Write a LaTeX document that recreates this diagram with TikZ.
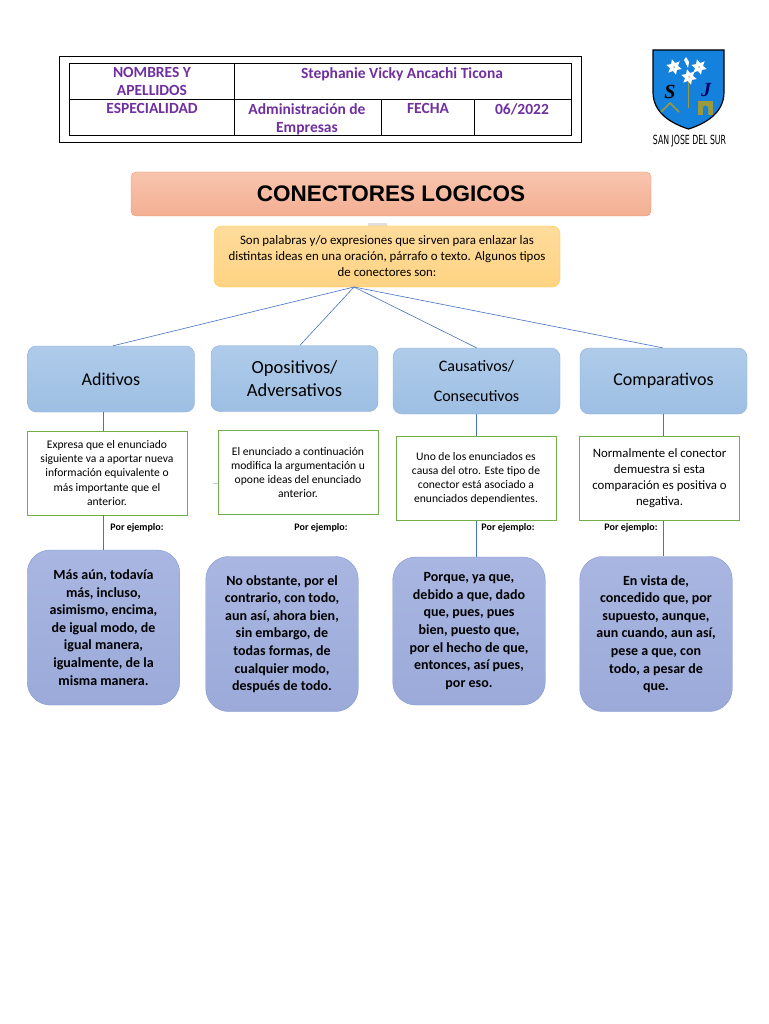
\documentclass[tikz,border=0pt]{standalone}
\usepackage{fontspec}
\setmainfont{Carlito}
\newfontfamily\titlefont{Liberation Sans}
\newfontfamily\logofont{DejaVu Sans Condensed}
\newfontfamily\letrafont{Liberation Serif}
\usetikzlibrary{calc}
\definecolor{morado}{HTML}{7030A0}
\definecolor{enlace}{HTML}{4472C4}
\definecolor{verde}{HTML}{70AD47}
\definecolor{escudo}{HTML}{1481DC}
\definecolor{olivo}{HTML}{9A9A3C}
\tikzset{
	caja/.style={inner sep=0pt,align=center},
	titulobox/.style={caja,draw={rgb,255:red,238;green,154;blue,107},top color={rgb,255:red,248;green,196;blue,174},bottom color={rgb,255:red,243;green,175;blue,146},rounded corners=5pt,minimum width=520pt,minimum height=44pt},
	introbox/.style={caja,draw={rgb,255:red,255;green,201;blue,60},top color={rgb,255:red,255;green,220;blue,156},bottom color={rgb,255:red,255;green,211;blue,130},rounded corners=8pt,minimum width=346pt,minimum height=61pt},
	tipobox/.style={caja,draw={rgb,255:red,143;green,176;blue,220},top color={rgb,255:red,175;green,203;blue,234},bottom color={rgb,255:red,157;green,191;blue,227},rounded corners=9pt,minimum width=167pt,minimum height=66pt},
	descbox/.style={caja,draw=verde,thick,fill=white,minimum width=160pt,minimum height=84pt},
	ejbox/.style={caja,draw={rgb,255:red,130;green,150;blue,210},top color={rgb,255:red,169;green,182;blue,225},bottom color={rgb,255:red,155;green,170;blue,217},rounded corners=23pt,minimum width=152.5pt,minimum height=155pt},
	celda/.style={inner sep=0pt,anchor=north,align=center,text=morado,font=\fontsize{15.5}{18}\selectfont\bfseries},
	ej/.style={inner sep=0pt,font=\fontsize{10}{10}\selectfont\bfseries},
	enlaza/.style={draw=enlace,line width=0.6pt}
}
\begin{document}
\begin{tikzpicture}[x=1pt,y=-1pt]
	\useasboundingbox (0,0) rectangle (768,1024);
	\fill[white] (0,0) rectangle (768,1024);
	% datos table
	\draw[line width=0.8pt] (59,56) rectangle (581,142);
	\draw[line width=0.8pt] (69,63) rectangle (571,135);
	\draw[line width=0.8pt] (69,99) -- (571,99);
	\draw[line width=0.8pt] (234,63) -- (234,135);
	\draw[line width=0.8pt] (381,99) -- (381,135);
	\draw[line width=0.8pt] (474,99) -- (474,135);
	\node[celda] (nombres) at (152,67) {NOMBRES Y\\APELLIDOS};
	\node[celda] (stephanie) at (402,67) {Stephanie Vicky Ancachi Ticona};
	\node[celda] (especialidad) at (152,103) {ESPECIALIDAD};
	\node[celda] (admin) at (307,103) {Administración de\\Empresas};
	\node[celda] (fecha) at (428,103) {FECHA};
	\node[celda] (mes) at (522,103) {06/2022};
	% escudo
	\draw[fill=escudo,line width=1.2pt] (653,50) -- (724,50) -- (724,92) .. controls (724,114) and (704,124) .. (688.5,129) .. controls (673,124) and (653,114) .. (653,92) -- cycle;
	\draw[olivo,line width=0.8pt] (688,80) -- (688,108);
	\foreach \cx/\cy in {674/67,699/67,689/77}{
		\foreach \a in {0,60,...,300}{
			\fill[white,shift={(\cx,\cy)},rotate=\a+15] (0,0) -- (2.5,2.5) -- (0,8) -- (-2.5,2.5) -- cycle;
		}
		\fill[gray!60] (\cx,\cy) circle (1);
	}
	\fill[white] (684,60) -- (686,57) -- (689,62) -- (688,68) -- cycle;
	\node[inner sep=0pt,font=\fontsize{20}{20}\selectfont\letrafont\bfseries\itshape] (eses) at (670,92) {S};
	\node[inner sep=0pt,text=blue!40!black,font=\fontsize{20}{20}\selectfont\letrafont\bfseries\itshape] (jota) at (706,90) {J};
	\draw[olivo,line width=1.6pt] (661,112) -- (670,103) -- (679,112);
	\fill[olivo] (698,101) rectangle (713,115);
	\fill[escudo] (703,108) -- (703,115) -- (708,115) -- (708,108) arc (0:-180:2.5) -- cycle;
	\node[inner sep=0pt] (sanjose) at (689.5,141) {\scalebox{0.72}[1.05]{\fontsize{12}{12}\selectfont\logofont SAN JOSE DEL SUR}};
	% title and intro
	\node[titulobox,font=\fontsize{22.5}{24}\selectfont\titlefont\bfseries] (titulo) at (391,194) {CONECTORES LOGICOS};
	\fill[gray!25] (368,223) rectangle (387,227);
	\node[introbox,font=\fontsize{12.9}{16}\selectfont] (intro) at (387,256.5) {Son palabras y/o expresiones que sirven para enlazar las\\distintas ideas en una oración, párrafo o texto. Algunos tipos\\de conectores son:};
	\coordinate (vertice) at (354,287);
	% tipos
	\node[tipobox,font=\fontsize{18}{23}\selectfont] (aditivos) at (111,379) {Aditivos};
	\node[tipobox,font=\fontsize{18.5}{23}\selectfont] (opositivos) at (294.5,378.5) {Opositivos/\\Adversativos};
	\node[tipobox,font=\fontsize{16}{30}\selectfont] (causativos) at (476.5,381) {Causativos/\\Consecutivos};
	\node[tipobox,font=\fontsize{18}{23}\selectfont] (comparativos) at (663.5,381) {\raisebox{-2pt}{Comparativos}};
	% descripciones
	\node[descbox,font=\fontsize{11.6}{14.2}\selectfont] (expresa) at (107,473) {Expresa que el enunciado\\siguiente va a aportar nueva\\información equivalente o\\más importante que el\\anterior.};
	\node[descbox,font=\fontsize{11.6}{14.2}\selectfont] (modifica) at (298,472.5) {El enunciado a continuación\\modifica la argumentación u\\opone ideas del enunciado\\anterior.};
	\node[descbox,font=\fontsize{11.6}{14.2}\selectfont] (uno) at (476,478.5) {Uno de los enunciados es\\causa del otro. Este tipo de\\conector está asociado a\\enunciados dependientes.};
	\node[descbox,font=\fontsize{12.8}{16}\selectfont] (normal) at (659.5,478.5) {Normalmente el conector\\demuestra si esta\\comparación es positiva o\\negativa.};
	% ejemplos
	\node[ej] (por1) at (137,528) {Por ejemplo:};
	\node[ej] (por2) at (321,528) {Por ejemplo:};
	\node[ej] (por3) at (508,528) {Por ejemplo:};
	\node[ej] (por4) at (631,528) {Por ejemplo:};
	\node[ejbox,font=\fontsize{14}{17.6}\selectfont\bfseries] (masaun) at (103.5,627.5) {Más aún, todavía\\más, incluso,\\asimismo, encima,\\de igual modo, de\\igual manera,\\igualmente, de la\\misma manera.};
	\node[ejbox,font=\fontsize{14}{17.6}\selectfont\bfseries] (obstante) at (282,634) {No obstante, por el\\contrario, con todo,\\aun así, ahora bien,\\sin embargo, de\\todas formas, de\\cualquier modo,\\después de todo.};
	\node[ejbox,minimum height=148pt,font=\fontsize{14}{17.6}\selectfont\bfseries] (porque) at (469,631) {Porque, ya que,\\debido a que, dado\\que, pues, pues\\bien, puesto que,\\por el hecho de que,\\entonces, así pues,\\por eso.};
	\node[ejbox,font=\fontsize{14}{17.6}\selectfont\bfseries] (vista) at (656,634) {En vista de,\\concedido que, por\\supuesto, aunque,\\aun cuando, aun así,\\pese a que, con\\todo, a pesar de\\que.};
	% connectors
	\foreach \t/\dx in {aditivos/2,opositivos/5.5,causativos/0,comparativos/-1}{
		\draw[enlaza] (vertice) -- ([xshift=\dx]\t.north);
	}
	\draw[enlaza] (masaun.north |- aditivos.south) -- (masaun.north |- expresa.north);
	\draw[enlaza] (masaun.north |- expresa.south) -- (masaun.north);
	\draw[enlaza] (causativos.south) -- (causativos.south |- uno.north);
	\draw[enlaza] (causativos.south |- uno.south) -- (causativos.south |- porque.north);
	\draw[enlaza] (comparativos.south) -- (comparativos.south |- normal.north);
	\draw[enlaza] (comparativos.south |- normal.south) -- (comparativos.south |- vista.north);
	\draw[gray!40] (213,483) -- (modifica.west |- 0,483);
\end{tikzpicture}
\end{document}
